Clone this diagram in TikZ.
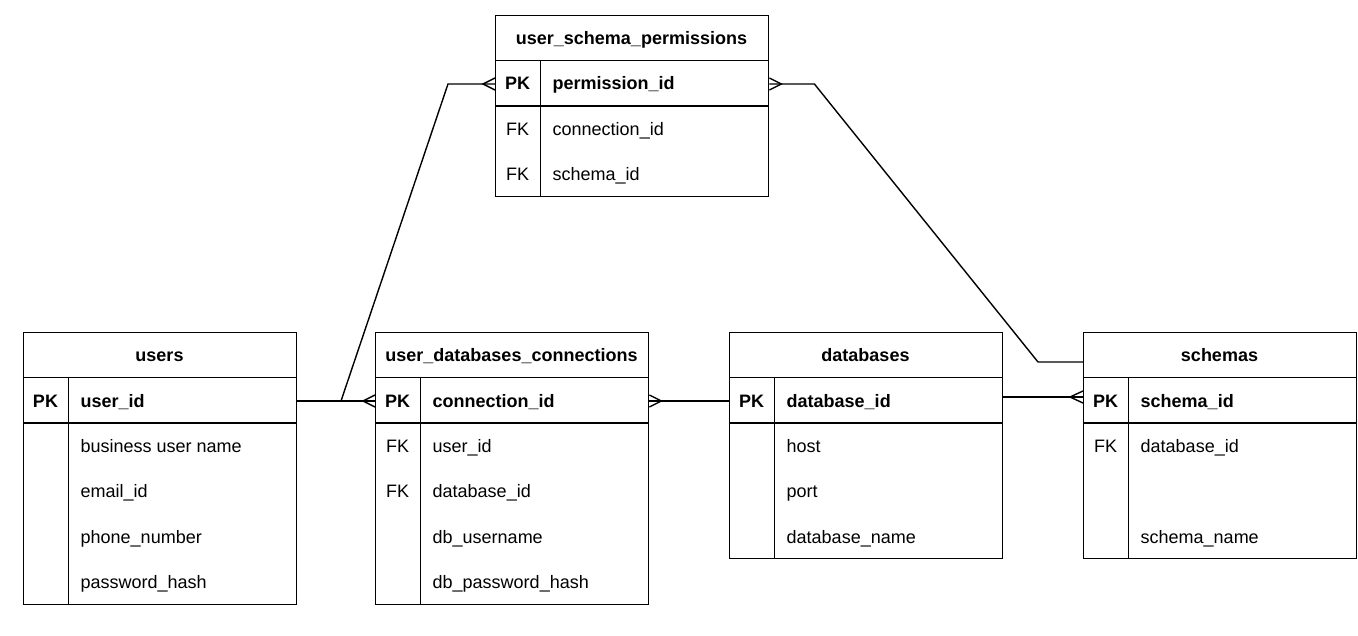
\documentclass[tikz,border=0pt]{standalone}
\usepackage{fontspec}
\setmainfont{Liberation Sans}
\usetikzlibrary{calc}
\begin{document}
\begin{tikzpicture}[x=1pt,y=-1pt,line width=1.4pt,
  every node/.style={inner sep=0pt, font=\fontsize{18}{20}\selectfont, text height=13pt, text depth=4pt},
  tablebox/.style={draw, rectangle, inner sep=0pt, minimum width=273pt, anchor=north west, text height=, text depth=},
  rowtext/.style={anchor=west},
  keytext/.style={anchor=center},
  bold/.style={font=\fontsize{18}{20}\selectfont\bfseries},
  conn/.style={line width=1.4pt}]
\useasboundingbox (0,0) rectangle (1358,635);

% #1 name, #2 x, #3 y, #4 total height, #5 title
\newcommand\mktable[5]{%
  \node[tablebox, minimum height=#4pt] (#1) at (#2,#3) {};
  \draw (#2,#3+45.5) -- ++(273,0) (#2,#3+91) -- ++(273,0)
        (#2+45.5,#3+45.5) -- (#2+45.5,#3+#4);
  \node[bold] (#1-title) at (#2+136.5,#3+25) {#5};
}
% #1 name, #2 x, #3 y, #4 offset, #5 key, #6 text, #7 style
\newcommand\mkrow[7]{%
  \node[keytext,#7] (#1-k) at (#2+22.5,#3+#4+2) {#5};
  \node[rowtext,#7] (#1) at (#2+57,#3+#4+2) {#6};
}

% users
\mktable{users}{23}{332}{272}{users}
\mkrow{users-pk}{23}{332}{69}{PK}{user\_id}{bold}
\mkrow{users-r1}{23}{332}{114}{}{business user name}{}
\mkrow{users-r2}{23}{332}{159}{}{email\_id}{}
\mkrow{users-r3}{23}{332}{205}{}{phone\_number}{}
\mkrow{users-r4}{23}{332}{250}{}{password\_hash}{}

% user_databases_connections
\mktable{udc}{375}{332}{272}{user\_databases\_connections}
\mkrow{udc-pk}{375}{332}{69}{PK}{connection\_id}{bold}
\mkrow{udc-r1}{375}{332}{114}{FK}{user\_id}{}
\mkrow{udc-r2}{375}{332}{159}{FK}{database\_id}{}
\mkrow{udc-r3}{375}{332}{205}{}{db\_username}{}
\mkrow{udc-r4}{375}{332}{250}{}{db\_password\_hash}{}

% databases
\mktable{db}{729}{332}{226}{databases}
\mkrow{db-pk}{729}{332}{69}{PK}{database\_id}{bold}
\mkrow{db-r1}{729}{332}{114}{}{host}{}
\mkrow{db-r2}{729}{332}{159}{}{port}{}
\mkrow{db-r3}{729}{332}{205}{}{database\_name}{}

% schemas
\mktable{sch}{1083}{332}{226}{schemas}
\mkrow{sch-pk}{1083}{332}{69}{PK}{schema\_id}{bold}
\mkrow{sch-r1}{1083}{332}{114}{FK}{database\_id}{}
\mkrow{sch-r3}{1083}{332}{205}{}{schema\_name}{}

% user_schema_permissions
\mktable{perm}{495}{15}{181}{user\_schema\_permissions}
\mkrow{perm-pk}{495}{15}{68}{PK}{permission\_id}{bold}
\mkrow{perm-r1}{495}{15}{114}{FK}{connection\_id}{}
\mkrow{perm-r2}{495}{15}{159}{FK}{schema\_id}{}

% crow's foot: #1 point on edge, #2 apex offset
\newcommand\crowfoot[2]{%
  \draw[conn] ($(#1)+(0,-6)$) -- ($(#1)+(#2,0)$) -- ($(#1)+(0,6)$);
}

% connection points
\coordinate (p-users) at ($(users.east |- users-pk)+(0,-2)$);
\coordinate (p-udcL) at (udc.west |- p-users);
\coordinate (p-udcR) at (udc.east |- p-users);
\coordinate (p-dbL) at (db.west |- p-users);
\coordinate (p-dbR) at ($(db.east |- p-users)+(0,-4)$);
\coordinate (p-schL) at (sch.west |- p-dbR);
\coordinate (p-schT) at ($(sch.north west)+(0,30)$);
\coordinate (p-permL) at ($(perm.west |- perm-pk)+(0,-1)$);
\coordinate (p-permR) at (perm.east |- p-permL);
\coordinate (b1) at ($(p-udcL)+(-34,0)$);
\coordinate (b2) at ($(p-permL)+(-47,0)$);
\coordinate (b3) at ($(p-permR)+(45,0)$);
\coordinate (b4) at ($(p-schT)+(-45,0)$);

% connectors
\draw[conn] (p-users) -- (p-udcL);
\draw[conn] (p-udcL) -- (b1) -- (b2) -- (p-permL);
\draw[conn] (p-permR) -- (b3) -- (b4) -- (p-schT);
\draw[conn] (p-udcR) -- (p-dbL);
\draw[conn] (p-dbR) -- (p-schL);

\crowfoot{p-udcL}{-12}
\crowfoot{p-permL}{-12}
\crowfoot{p-permR}{12}
\crowfoot{p-udcR}{12}
\crowfoot{p-schL}{-13}
\end{tikzpicture}
\end{document}
